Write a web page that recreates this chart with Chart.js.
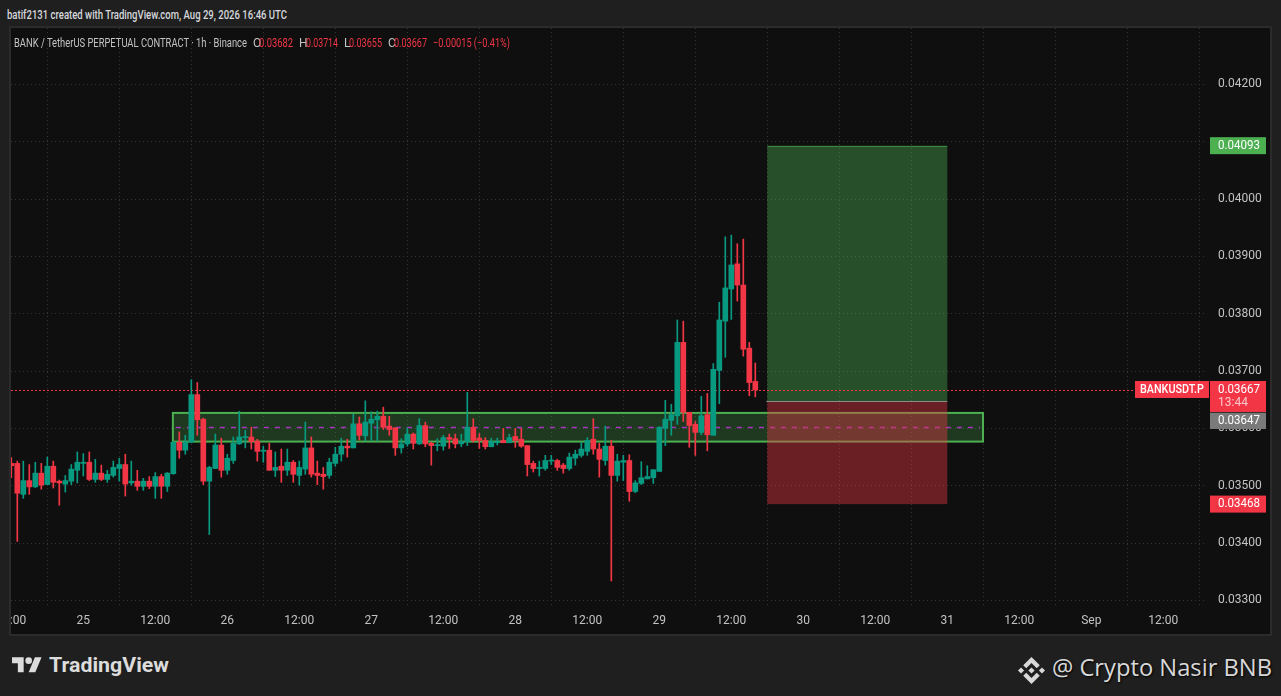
<!DOCTYPE html>
<html><head><meta charset="utf-8">
<script src="https://cdn.jsdelivr.net/npm/chart.js@4.4.1/dist/chart.umd.min.js"></script>
<style>
html,body{margin:0;padding:0;background:#1f1f1f;width:1281px;height:696px;overflow:hidden;font-family:Roboto,"Open Sans",sans-serif;}
.t{position:absolute;white-space:nowrap;transform-origin:0 50%;line-height:1;}
#panel{position:absolute;left:9px;top:26px;width:1263px;height:610px;border:2px solid #2b2b2b;box-sizing:border-box;background:#0f0f0f;}
#wrap{position:absolute;left:11px;top:28px;width:1259px;height:606px;}
.lg{font-size:12px;color:#c4c4c4;}
.rv{font-size:12px;color:#f23645;}
</style></head><body>
<div class="t" data-x="7" data-y="15" data-w="280" style="font-size:12.5px;font-weight:500;color:#d6d8de">batif2131 created with TradingView.com, Aug 29, 2026 16:46 UTC</div>
<div id="panel"></div>
<div id="wrap"><canvas id="c" width="1259" height="606"></canvas></div>
<div class="t lg" data-x="14" data-y="42.5" data-w="233">BANK / TetherUS PERPETUAL CONTRACT · 1h · Binance</div>
<div class="t lg" data-x="253" data-y="42.5">O</div>
<div class="t rv" data-x="259" data-y="42.5" data-w="34">0.03682</div>
<div class="t lg" data-x="299" data-y="42.5">H</div>
<div class="t rv" data-x="306" data-y="42.5" data-w="32">0.03714</div>
<div class="t lg" data-x="344" data-y="42.5">L</div>
<div class="t rv" data-x="349" data-y="42.5" data-w="33">0.03655</div>
<div class="t lg" data-x="388" data-y="42.5">C</div>
<div class="t rv" data-x="394" data-y="42.5" data-w="33">0.03667</div>
<div class="t rv" data-x="433" data-y="42.5" data-w="77">−0.00015 (−0.41%)</div>

<svg style="position:absolute;left:12px;top:654px" width="30" height="23.3" viewBox="0 0 36 28"><path fill="#dcdcdc" d="M14 22H7V11H0V4h14v18zM28 22h-8l7.5-18h8L28 22z"/><circle fill="#dcdcdc" cx="20" cy="8" r="4"/></svg>
<div class="t" data-x="49" data-y="665" data-w="120" style="font-size:20px;font-weight:700;color:#dcdcdc">TradingView</div>
<svg style="position:absolute;left:1018px;top:657px" width="27" height="27" viewBox="0 0 126.61 126.61"><g fill="#d8d8d8"><path d="M38.73 53.2L63.3 28.63l24.59 24.58 14.3-14.29L63.3 0 24.44 38.88z"/><path d="M0 63.31l14.3-14.3 14.29 14.3-14.3 14.29z"/><path d="M38.73 73.41L63.3 97.99l24.59-24.59 14.3 14.29L63.3 126.61 24.44 87.72z"/><path d="M98.03 63.31l14.3-14.3 14.29 14.3-14.3 14.29z"/><path d="M77.83 63.3L63.3 48.76 48.78 63.28 63.3 77.8z"/></g></svg>
<div class="t" data-x="1052" data-y="667" data-w="220" style="font-family:'Open Sans',sans-serif;font-size:23px;color:#d8d8d8;text-shadow:1px 1px 2px #000">@ Crypto Nasir BNB</div>

<script>
// ---- data (hourly candles from Aug 24 12:00, index = hour) ----
const opens = [0.03539,0.03539,0.03485,0.03509,0.03498,0.03522,0.03502,0.03534,0.03508,0.03503,
0.03508,0.03527,0.03539,0.03541,0.03511,0.03522,0.03511,0.03518,0.03530,0.03537,
0.03505,0.03508,0.03499,0.03508,0.03499,0.03516,0.03499,0.03521,0.03576,0.03562,
0.03576,0.03659,0.03616,0.03508,0.03530,0.03571,0.03527,0.03544,0.03573,0.03584,
0.03585,0.03578,0.03560,0.03562,0.03527,0.03534,0.03527,0.03541,0.03518,0.03529,
0.03566,0.03522,0.03520,0.03518,0.03539,0.03555,0.03569,0.03566,0.03608,0.03587,
0.03609,0.03615,0.03621,0.03604,0.03601,0.03566,0.03573,0.03590,0.03573,0.03605,
0.03574,0.03570,0.03569,0.03584,0.03582,0.03573,0.03577,0.03602,0.03583,0.03579,
0.03568,0.03575,0.03579,0.03575,0.03586,0.03581,0.03570,0.03539,0.03530,0.03530,
0.03543,0.03544,0.03536,0.03530,0.03548,0.03553,0.03560,0.03581,0.03564,0.03544,
0.03569,0.03518,0.03541,0.03544,0.03490,0.03504,0.03512,0.03514,0.03525,0.03600,
0.03614,0.03622,0.03750,0.03628,0.03607,0.03593,0.03624,0.03588,0.03701,0.03787,
0.03843,0.03887,0.03850,0.03740,0.03682];
const highs = [0.03549,0.03543,0.03543,0.03537,0.03541,0.03539,0.03550,0.03543,0.03510,0.03518,
0.03537,0.03559,0.03556,0.03559,0.03546,0.03536,0.03527,0.03543,0.03548,0.03555,
0.03543,0.03527,0.03513,0.03516,0.03523,0.03520,0.03523,0.03577,0.03594,0.03588,
0.03685,0.03680,0.03618,0.03534,0.03590,0.03583,0.03555,0.03585,0.03630,0.03597,
0.03602,0.03581,0.03569,0.03574,0.03559,0.03564,0.03564,0.03544,0.03543,0.03611,
0.03585,0.03543,0.03532,0.03548,0.03567,0.03583,0.03581,0.03625,0.03620,0.03648,
0.03629,0.03630,0.03637,0.03621,0.03601,0.03582,0.03601,0.03592,0.03617,0.03611,
0.03576,0.03582,0.03588,0.03590,0.03590,0.03590,0.03663,0.03617,0.03591,0.03584,
0.03583,0.03583,0.03600,0.03590,0.03600,0.03600,0.03570,0.03543,0.03543,0.03553,
0.03553,0.03546,0.03539,0.03557,0.03562,0.03576,0.03584,0.03617,0.03574,0.03604,
0.03579,0.03555,0.03553,0.03554,0.03509,0.03542,0.03535,0.03528,0.03603,0.03649,
0.03642,0.03789,0.03787,0.03628,0.03612,0.03656,0.03661,0.03713,0.03820,0.03934,
0.03937,0.03922,0.03930,0.03750,0.03714];
const lows = [0.03514,0.03403,0.03478,0.03485,0.03497,0.03494,0.03502,0.03496,0.03466,0.03489,
0.03502,0.03505,0.03517,0.03509,0.03506,0.03509,0.03506,0.03515,0.03508,0.03482,
0.03501,0.03492,0.03492,0.03495,0.03478,0.03478,0.03490,0.03520,0.03548,0.03555,
0.03575,0.03588,0.03502,0.03415,0.03530,0.03515,0.03520,0.03539,0.03572,0.03566,
0.03564,0.03543,0.03541,0.03527,0.03516,0.03506,0.03518,0.03506,0.03501,0.03520,
0.03515,0.03502,0.03494,0.03513,0.03534,0.03543,0.03550,0.03566,0.03580,0.03578,
0.03578,0.03578,0.03598,0.03588,0.03553,0.03557,0.03569,0.03564,0.03572,0.03568,
0.03536,0.03561,0.03562,0.03565,0.03566,0.03568,0.03570,0.03576,0.03565,0.03564,
0.03568,0.03571,0.03575,0.03575,0.03567,0.03567,0.03517,0.03524,0.03517,0.03527,
0.03537,0.03527,0.03522,0.03527,0.03536,0.03550,0.03553,0.03555,0.03515,0.03536,
0.03334,0.03508,0.03509,0.03473,0.03488,0.03502,0.03512,0.03504,0.03525,0.03570,
0.03588,0.03607,0.03612,0.03567,0.03553,0.03589,0.03561,0.03588,0.03643,0.03724,
0.03790,0.03822,0.03726,0.03657,0.03655];
const closes = [0.03535,0.03487,0.03509,0.03498,0.03522,0.03501,0.03534,0.03506,0.03505,0.03509,
0.03529,0.03541,0.03541,0.03511,0.03522,0.03511,0.03520,0.03532,0.03537,0.03503,
0.03508,0.03499,0.03508,0.03499,0.03516,0.03499,0.03522,0.03576,0.03562,0.03576,
0.03659,0.03615,0.03508,0.03532,0.03571,0.03527,0.03548,0.03574,0.03585,0.03585,
0.03577,0.03560,0.03562,0.03527,0.03532,0.03527,0.03541,0.03520,0.03532,0.03566,
0.03520,0.03518,0.03516,0.03541,0.03555,0.03569,0.03566,0.03608,0.03588,0.03611,
0.03616,0.03621,0.03602,0.03598,0.03566,0.03573,0.03590,0.03574,0.03605,0.03573,
0.03570,0.03571,0.03584,0.03581,0.03573,0.03577,0.03602,0.03579,0.03579,0.03568,
0.03577,0.03577,0.03575,0.03584,0.03579,0.03569,0.03537,0.03530,0.03532,0.03544,
0.03544,0.03532,0.03530,0.03550,0.03555,0.03564,0.03579,0.03564,0.03546,0.03569,
0.03518,0.03543,0.03544,0.03490,0.03505,0.03514,0.03516,0.03528,0.03602,0.03616,
0.03624,0.03750,0.03628,0.03605,0.03593,0.03622,0.03589,0.03703,0.03789,0.03845,
0.03885,0.03850,0.03738,0.03680,0.03667];

const xTickHours  = [0,12,24,36,48,60,72,84,96,108,120,132,144,156,168,180,192];
const xTickLabels = ['12:00','25','12:00','26','12:00','27','12:00','28','12:00','29','12:00','30','12:00','31','12:00','Sep','12:00'];
const yTickValues = [0.033,0.034,0.035,0.036,0.037,0.038,0.039,0.040,0.041,0.042];
const yHiddenTicks = [0.041];

// drawings
const zoneRange   = [26.93, 161.95];      // hours
const zonePrices  = [0.03577, 0.03627];
const positionRange = [126, 156];
const targetPrice = 0.04093;
const entryPrice  = 0.03647;
const stopPrice   = 0.03468;
const lastPrice   = 0.03667;
const countdown   = '13:44';
const symbolTag   = 'BANKUSDT.P';

const GREEN = '#089981', RED = '#f23645';

const idx = opens.map((_, i) => i);
const candleColors = idx.map(i => closes[i] >= opens[i] ? GREEN : RED);
const bodyData = idx.map(i => ({x: i, y: [opens[i], closes[i]]}));
const wickData = idx.map(i => ({x: i, y: [lows[i], highs[i]]}));

function fitText(ctx, text, x, y, maxW) {
  const w = ctx.measureText(text).width;
  if (w <= maxW) { ctx.fillText(text, x, y); return; }
  ctx.save(); ctx.translate(x, y); ctx.scale(maxW / w, 1); ctx.fillText(text, 0, 0); ctx.restore();
}

const overlay = {
  id: 'overlay',
  beforeDatasetsDraw(chart) {
    const {ctx, chartArea: a, scales: {x, y}} = chart;
    ctx.save();
    ctx.beginPath(); ctx.rect(a.left, a.top, a.width, a.height); ctx.clip();
    // support zone
    const zx1 = x.getPixelForValue(zoneRange[0]), zx2 = x.getPixelForValue(zoneRange[1]);
    const zy1 = y.getPixelForValue(zonePrices[1]), zy2 = y.getPixelForValue(zonePrices[0]);
    ctx.fillStyle = 'rgba(76,175,80,0.27)';
    ctx.fillRect(zx1, zy1, zx2 - zx1, zy2 - zy1);
    ctx.strokeStyle = '#4caf50'; ctx.lineWidth = 2;
    ctx.strokeRect(zx1, zy1, zx2 - zx1, zy2 - zy1);
    const zm = Math.round(y.getPixelForValue((zonePrices[0] + zonePrices[1]) / 2)) + 0.5;
    ctx.strokeStyle = '#a535bb'; ctx.lineWidth = 1.5; ctx.setLineDash([5, 6]);
    ctx.beginPath(); ctx.moveTo(zx1 + 3, zm); ctx.lineTo(zx2 - 3, zm); ctx.stroke();
    ctx.setLineDash([]);
    // long position
    const px1 = x.getPixelForValue(positionRange[0]), px2 = x.getPixelForValue(positionRange[1]);
    const yt = y.getPixelForValue(targetPrice), ye = y.getPixelForValue(entryPrice), ys = y.getPixelForValue(stopPrice);
    ctx.fillStyle = 'rgba(76,175,80,0.4)';
    ctx.fillRect(px1, yt, px2 - px1, ye - yt);
    ctx.fillStyle = 'rgba(242,54,69,0.4)';
    ctx.fillRect(px1, ye, px2 - px1, ys - ye);
    ctx.strokeStyle = 'rgba(76,175,80,0.6)'; ctx.lineWidth = 1;
    ctx.beginPath(); ctx.moveTo(px1, Math.round(yt) + 0.5); ctx.lineTo(px2, Math.round(yt) + 0.5); ctx.stroke();
    ctx.strokeStyle = '#8a8a8a';
    ctx.beginPath(); ctx.moveTo(px1 - 1, Math.round(ye) + 0.5); ctx.lineTo(px2, Math.round(ye) + 0.5); ctx.stroke();
    // last price line
    const yl = Math.round(y.getPixelForValue(lastPrice)) + 0.5;
    ctx.strokeStyle = RED; ctx.setLineDash([2, 2]);
    ctx.beginPath(); ctx.moveTo(a.left, yl); ctx.lineTo(a.right, yl); ctx.stroke();
    ctx.restore();
  },
  afterDraw(chart) {
    const {ctx, chartArea: a, scales: {y}} = chart;
    const L = a.right + 3, W = 56;
    ctx.save();
    ctx.textBaseline = 'middle'; ctx.textAlign = 'left';
    const font = '12px Roboto';
    function tag(bg, top, h, text, yc, color) {
      ctx.fillStyle = bg; ctx.fillRect(L, top, W, h);
      ctx.fillStyle = color || '#ffffff'; ctx.font = font;
      fitText(ctx, text, L + 8, yc, 42);
    }
    const ytg = y.getPixelForValue(targetPrice);
    tag('#4caf50', ytg - 8.5, 17, targetPrice.toFixed(5), ytg + 0.5);
    const ylp = y.getPixelForValue(lastPrice);
    const redTop = ylp - 9;
    tag(RED, redTop, 31, lastPrice.toFixed(5), ylp);
    ctx.fillStyle = 'rgba(255,255,255,0.72)'; ctx.font = font;
    ctx.fillText(countdown, L + 8, ylp + 12.7);
    // symbol tag
    ctx.fillStyle = RED; ctx.fillRect(a.right - 72, redTop, 74, 17);
    ctx.fillStyle = '#ffffff'; ctx.font = '500 12px Roboto';
    fitText(ctx, symbolTag, a.right - 67, ylp, 64);
    // entry tag (pushed below the last-price tag)
    tag('#7a7a7a', redTop + 31.7, 16.3, entryPrice.toFixed(5), redTop + 31.7 + 8.4);
    const yst = y.getPixelForValue(stopPrice);
    tag(RED, yst - 8.5, 17, stopPrice.toFixed(5), yst + 0.3);
    ctx.restore();
  }
};

new Chart(document.getElementById('c'), {
  type: 'bar',
  data: {
    datasets: [
      {data: bodyData, backgroundColor: candleColors, barThickness: 5, minBarLength: 1, grouped: false, order: 0, borderWidth: 0},
      {data: wickData, backgroundColor: candleColors, barThickness: 1, grouped: false, order: 1, borderWidth: 0}
    ]
  },
  options: {
    responsive: false, animation: false, events: [],
    layout: {padding: 0},
    plugins: {legend: {display: false}, tooltip: {enabled: false}},
    scales: {
      x: {
        type: 'linear', min: -0.05, max: 199.283, offset: false,
        grid: {color: '#363636', lineWidth: 1, drawTicks: false},
        border: {display: false, dash: [1, 3]},
        afterBuildTicks: s => { s.ticks = xTickHours.map(v => ({value: v})); },
        afterFit: s => { s.height = 26; s.paddingLeft = 0; s.paddingRight = 0; },
        ticks: {autoSkip: false, maxRotation: 0, padding: 6, color: '#c3c3c3',
                font: {family: 'Roboto', size: 12},
                callback: (v, i) => xTickLabels[xTickHours.indexOf(v)] ?? ''}
      },
      y: {
        type: 'linear', position: 'right', min: 0.0328684, max: 0.0429817,
        grid: {color: '#363636', lineWidth: 1, drawTicks: false},
        border: {display: false, dash: [1, 3]},
        afterBuildTicks: s => { s.ticks = yTickValues.map(v => ({value: v})); },
        afterFit: s => { s.width = 63; s.paddingTop = 0; s.paddingBottom = 0; },
        ticks: {padding: 11, color: '#c3c3c3', font: {family: 'Roboto', size: 12},
                callback: v => yHiddenTicks.some(h => Math.abs(h - v) < 1e-9) ? '' : Number(v).toFixed(5)}
      }
    }
  },
  plugins: [overlay]
});

function placeTexts() {
  document.querySelectorAll('.t').forEach(el => {
    el.style.transform = 'none';
    const r = el.getBoundingClientRect();
    el.style.left = el.dataset.x + 'px';
    el.style.top = (parseFloat(el.dataset.y) - r.height / 2) + 'px';
    if (el.dataset.w) el.style.transform = 'scaleX(' + (parseFloat(el.dataset.w) / r.width) + ')';
  });
}
placeTexts();
if (document.fonts && document.fonts.ready) document.fonts.ready.then(placeTexts);
</script>
</body></html>
